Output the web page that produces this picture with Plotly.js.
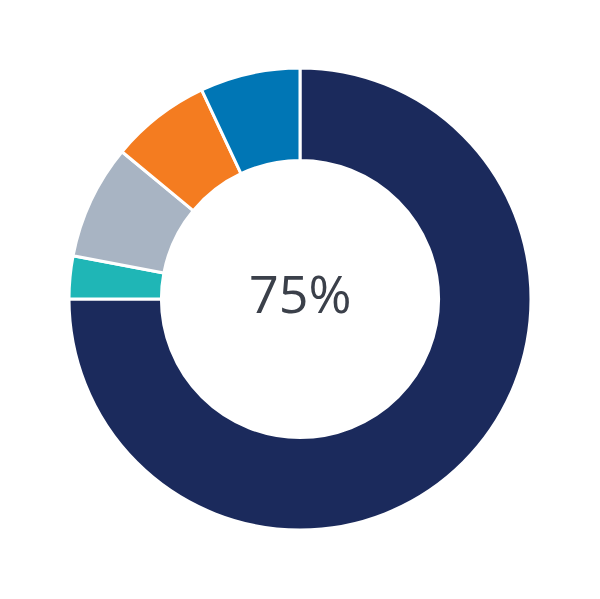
<!DOCTYPE html>
<html>
<head>
<meta charset="utf-8">
<script src="https://cdn.plot.ly/plotly-3.0.1.min.js"></script>
<style>html,body{margin:0;padding:0;background:#fff;}#chart{width:600px;height:599px;}</style>
</head>
<body>
<div id="chart"></div>
<script>
const categories = ["Navy", "Teal", "Gray", "Orange", "Blue"];
const values = [75, 3, 8, 7, 7];
const colors = ["#1b2a5c", "#1fb6b6", "#a8b4c3", "#f47c20", "#0076b5"];
const centerLabel = "75%";

Plotly.newPlot("chart", [{
  type: "pie",
  labels: categories,
  values: values,
  hole: 0.6,
  sort: false,
  direction: "clockwise",
  rotation: 0,
  textinfo: "none",
  hoverinfo: "none",
  marker: {colors: colors, line: {color: "#ffffff", width: 3}}
}], {
  width: 600, height: 599,
  margin: {l: 69, r: 69, t: 68, b: 69},
  showlegend: false,
  paper_bgcolor: "#ffffff",
  annotations: [{
    text: centerLabel, x: 0.5, y: 0.5, xref: "paper", yref: "paper",
    showarrow: false, xanchor: "center", yanchor: "middle", yshift: 7,
    font: {family: "Open Sans", size: 52, color: "#3b404a"}
  }]
}, {displayModeBar: false, staticPlot: true});
</script>
</body>
</html>
